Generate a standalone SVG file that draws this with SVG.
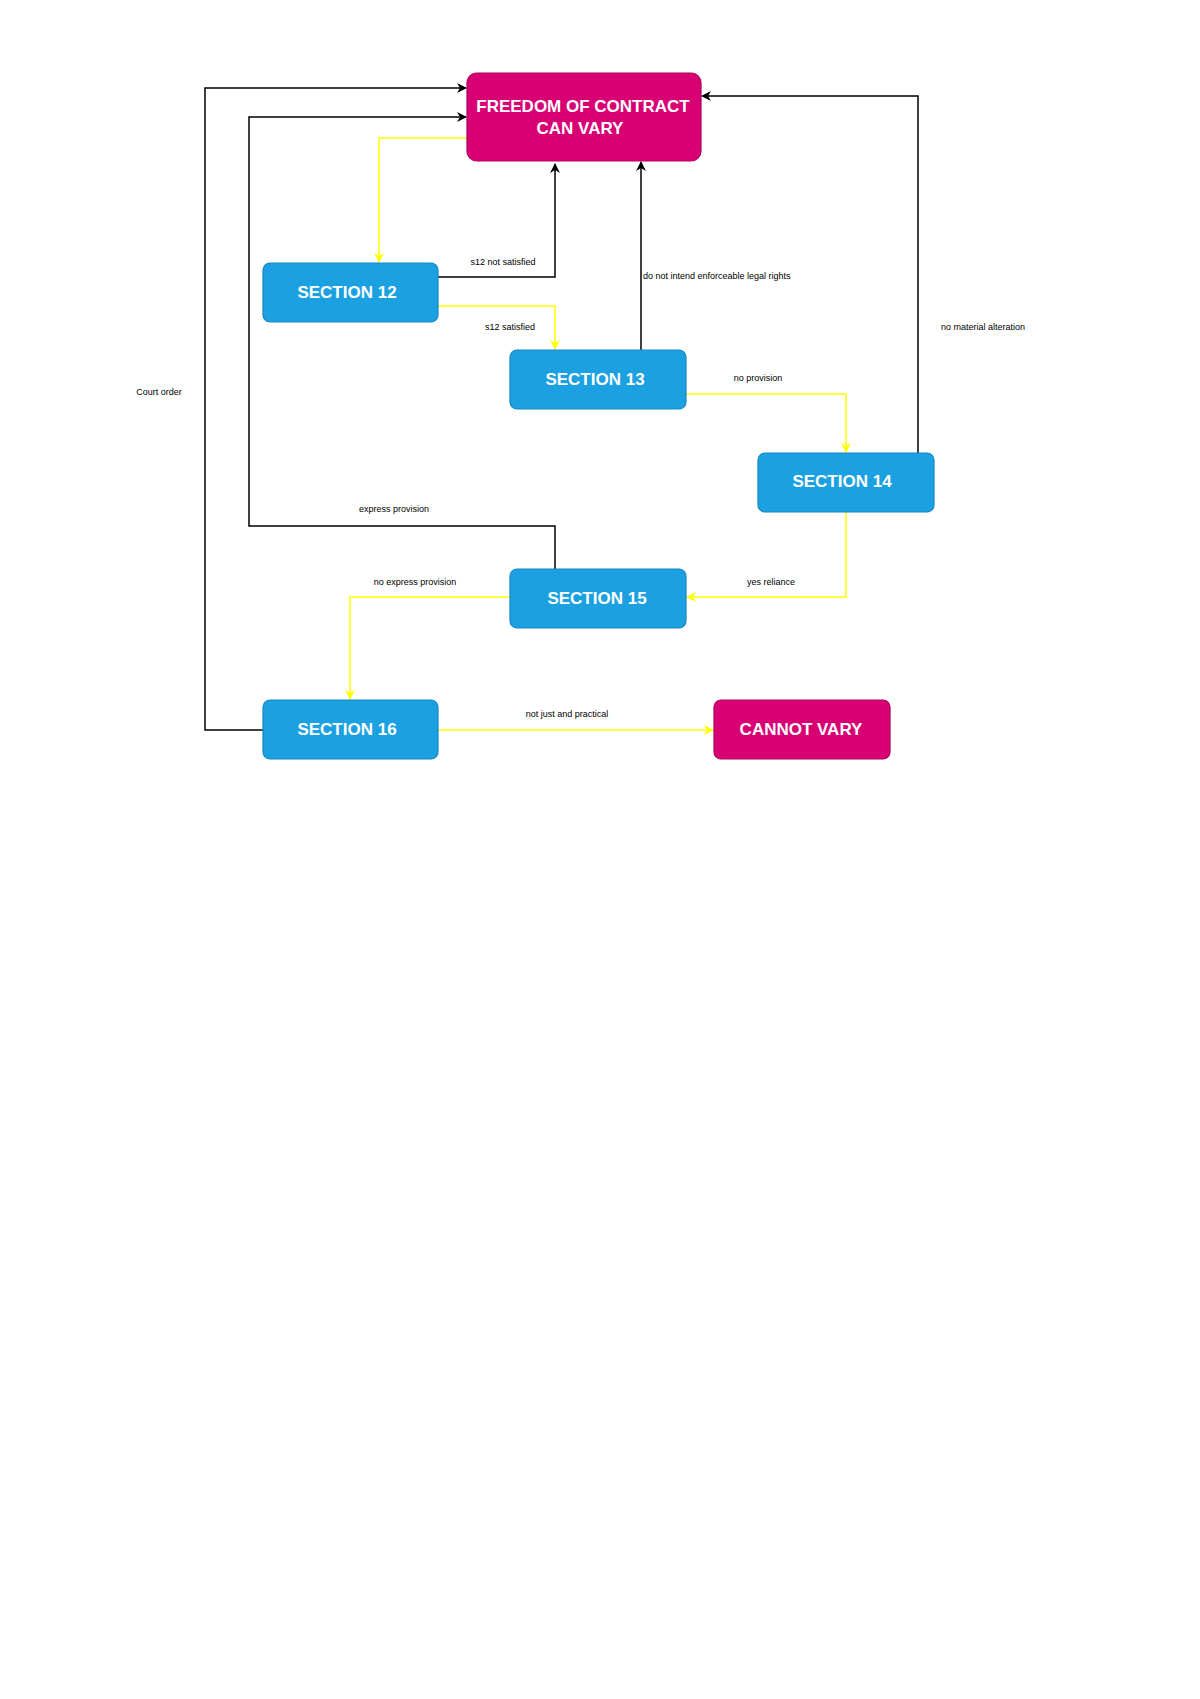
<svg xmlns="http://www.w3.org/2000/svg" width="1200" height="1699" viewBox="0 0 1200 1699">
<style>
.b{fill:#1ba1e2;stroke:#1588c4;stroke-width:1.2}
.m{fill:#d80073;stroke:#b00060;stroke-width:1.2}
.t{fill:#fff;font-family:"Liberation Sans",Arial,sans-serif;font-weight:bold;font-size:17px;text-anchor:middle}
.l{fill:#000;font-family:"Liberation Sans",Arial,sans-serif;font-size:9px;text-anchor:middle}
.k{fill:none;stroke:#000;stroke-width:1.5}
.y{fill:none;stroke:#ffff00;stroke-width:1.5}
</style>
<defs>
<marker id="ak" markerWidth="10" markerHeight="10" refX="9" refY="5" orient="auto" markerUnits="userSpaceOnUse"><path d="M0,0 L10,5 L0,10 L3,5 Z" fill="#000"/></marker>
<marker id="ay" markerWidth="10" markerHeight="10" refX="9" refY="5" orient="auto" markerUnits="userSpaceOnUse"><path d="M0,0 L10,5 L0,10 L3,5 Z" fill="#ffff00"/></marker>
</defs>
<rect width="1200" height="1699" fill="#fff"/>
<g id="connectors">
<path class="k" marker-end="url(#ak)" d="M263,730 H205 V88 H466"/>
<path class="k" marker-end="url(#ak)" d="M555,569 V526 H249 V117 H466"/>
<path class="y" marker-end="url(#ay)" d="M467,138 H379 V262"/>
<path class="k" marker-end="url(#ak)" d="M438,277 H555 V164"/>
<path class="y" marker-end="url(#ay)" d="M438,306 H555 V349"/>
<path class="k" marker-end="url(#ak)" d="M641,350 V162"/>
<path class="y" marker-end="url(#ay)" d="M686,394 H846 V452"/>
<path class="k" marker-end="url(#ak)" d="M918,453 V96 H702"/>
<path class="y" marker-end="url(#ay)" d="M846,512 V597 H687"/>
<path class="y" marker-end="url(#ay)" d="M510,597 H350 V699"/>
<path class="y" marker-end="url(#ay)" d="M438,730 H713"/>
<text class="l" x="503" y="265">s12 not satisfied</text>
<text class="l" x="643" y="279" text-anchor="start" style="text-anchor:start">do not intend enforceable legal rights</text>
<text class="l" x="510" y="330">s12 satisfied</text>
<text class="l" x="983" y="330">no material alteration</text>
<text class="l" x="159" y="395">Court order</text>
<text class="l" x="758" y="381">no provision</text>
<text class="l" x="394" y="512">express provision</text>
<text class="l" x="415" y="585">no express provision</text>
<text class="l" x="771" y="585">yes reliance</text>
<text class="l" x="567" y="717">not just and practical</text>
</g>
<g id="freedom"><rect class="m" x="467" y="73" width="234" height="88" rx="10"/><text class="t" x="583" y="112">FREEDOM OF CONTRACT</text><text class="t" x="580" y="134">CAN VARY</text></g>
<g id="s12"><rect class="b" x="263" y="263" width="175" height="59" rx="7"/><text class="t" x="347" y="298">SECTION 12</text></g>
<g id="s13"><rect class="b" x="510" y="350" width="176" height="59" rx="7"/><text class="t" x="595" y="385">SECTION 13</text></g>
<g id="s14"><rect class="b" x="758" y="453" width="176" height="59" rx="7"/><text class="t" x="842" y="487">SECTION 14</text></g>
<g id="s15"><rect class="b" x="510" y="569" width="176" height="59" rx="7"/><text class="t" x="597" y="604">SECTION 15</text></g>
<g id="s16"><rect class="b" x="263" y="700" width="175" height="59" rx="7"/><text class="t" x="347" y="735">SECTION 16</text></g>
<g id="cannot"><rect class="m" x="714" y="700" width="176" height="59" rx="7"/><text class="t" x="801" y="735">CANNOT VARY</text></g>
</svg>
